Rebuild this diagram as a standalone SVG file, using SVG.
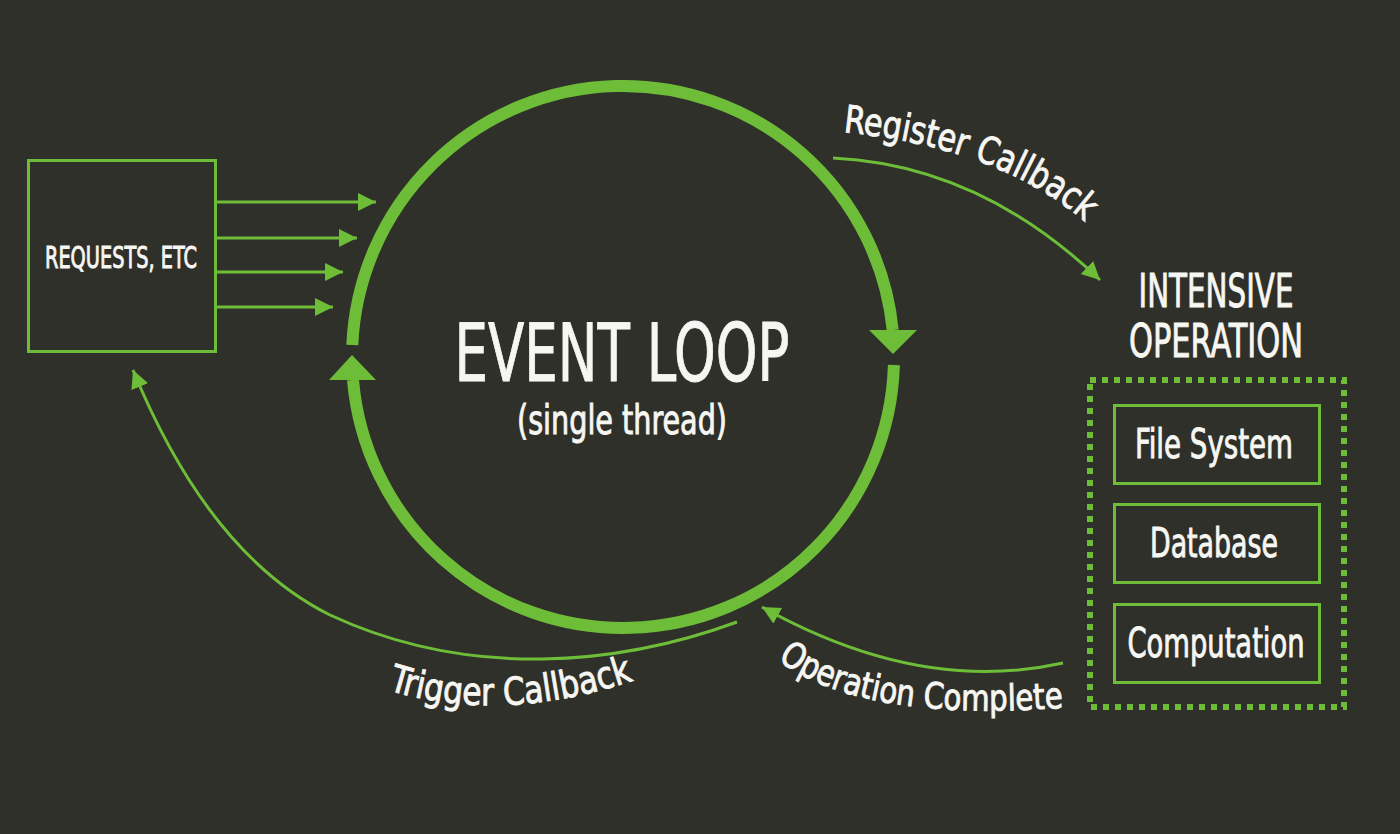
<svg xmlns="http://www.w3.org/2000/svg" width="1400" height="834" viewBox="0 0 1400 834">
<defs>
<style>
.g{fill:none;stroke:#6dbd38}
.t{fill:#f6f6f2;stroke:#f6f6f2;stroke-width:0.9;font-family:"Liberation Sans Narrow","DejaVu Sans Condensed","DejaVu Sans",sans-serif;font-stretch:condensed;text-anchor:middle}
.tl{fill:#f6f6f2;stroke:#f6f6f2;stroke-width:0.9;font-family:"Liberation Sans Narrow","DejaVu Sans Condensed","DejaVu Sans",sans-serif;font-stretch:condensed}
.fillg{fill:#6dbd38}
</style>
<marker id="ah" markerUnits="userSpaceOnUse" markerWidth="20" markerHeight="20" viewBox="0 0 20 20" refX="18" refY="9" orient="auto">
<path d="M0,0 L18,9 L0,18 z" fill="#6dbd38"/>
</marker>
<path id="pReg" d="M 843 132 Q 1000 148 1085 222"/>
<path id="pTrig" d="M 388 690 Q 500 725 635 680"/>
<path id="pOp" d="M 778 660 Q 860 722 1060 708"/>
</defs>
<rect width="1400" height="834" fill="#30302a"/>

<g id="event-loop">
<path class="g" stroke-width="12" d="M 352.3 345 A 271 271 0 0 1 892.7 330"/>
<path class="g" stroke-width="12" d="M 893.9 365 A 271 271 0 0 1 353 380"/>
<polygon class="fillg" points="869,330 917,330 893,354"/>
<polygon class="fillg" points="329,380 376,380 352,355"/>
<text class="t" x="622" y="381" font-size="80" textLength="335" lengthAdjust="spacingAndGlyphs">EVENT LOOP</text>
<text class="t" x="622" y="434" font-size="40" textLength="210" lengthAdjust="spacingAndGlyphs">(single thread)</text>
</g>

<g id="requests">
<rect class="g" stroke-width="3" x="28.5" y="160.5" width="187" height="191"/>
<text class="t" x="121" y="268" font-size="30" textLength="152" lengthAdjust="spacingAndGlyphs">REQUESTS, ETC</text>
</g>

<g id="intensive-operation">
<text class="t" x="1216" y="307" font-size="47" textLength="155" lengthAdjust="spacingAndGlyphs">INTENSIVE</text>
<text class="t" x="1216" y="357" font-size="47" textLength="174" lengthAdjust="spacingAndGlyphs">OPERATION</text>
<rect class="g" stroke-width="6" stroke-dasharray="6 6" x="1090" y="380" width="254" height="327"/>
</g>
<g id="file-system">
<rect class="g" stroke-width="3" x="1114.5" y="405.5" width="205" height="78"/>
<text class="t" x="1214" y="458" font-size="40" textLength="158" lengthAdjust="spacingAndGlyphs">File System</text>
</g>
<g id="database">
<rect class="g" stroke-width="3" x="1114.5" y="504.5" width="205" height="78"/>
<text class="t" x="1214" y="557" font-size="40" textLength="128" lengthAdjust="spacingAndGlyphs">Database</text>
</g>
<g id="computation">
<rect class="g" stroke-width="3" x="1114.5" y="604.5" width="205" height="78"/>
<text class="t" x="1216" y="657" font-size="40" textLength="177" lengthAdjust="spacingAndGlyphs">Computation</text>
</g>

<g id="connectors">
<line class="g" stroke-width="3" x1="217" y1="202" x2="376" y2="202" marker-end="url(#ah)"/>
<line class="g" stroke-width="3" x1="217" y1="238" x2="357" y2="238" marker-end="url(#ah)"/>
<line class="g" stroke-width="3" x1="217" y1="272" x2="343" y2="272" marker-end="url(#ah)"/>
<line class="g" stroke-width="3" x1="217" y1="307" x2="333" y2="307" marker-end="url(#ah)"/>
<path class="g" stroke-width="3" d="M 833 158 Q 980 165 1100 280" marker-end="url(#ah)"/>
<path class="g" stroke-width="3" d="M 1063 663 Q 920 695 762 607" marker-end="url(#ah)"/>
<path class="g" stroke-width="3" d="M 737 622 C 620 665 470 680 330 615 C 230 565 170 460 133 370" marker-end="url(#ah)"/>
<text class="tl" font-size="38"><textPath href="#pReg" textLength="262" lengthAdjust="spacingAndGlyphs">Register Callback</textPath></text>
<text class="tl" font-size="38"><textPath href="#pTrig" textLength="250" lengthAdjust="spacingAndGlyphs">Trigger Callback</textPath></text>
<text class="tl" font-size="36"><textPath href="#pOp" textLength="295" lengthAdjust="spacingAndGlyphs">Operation Complete</textPath></text>
</g>
</svg>
